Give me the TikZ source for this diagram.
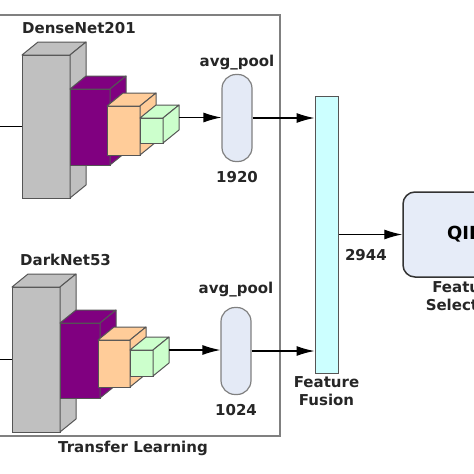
\documentclass[tikz,border=0pt]{standalone}
\usepackage{fontspec}
\setmainfont{DejaVu Sans}
\usetikzlibrary{arrows.meta,positioning}
\definecolor{layergray}{HTML}{C0C0C0}
\definecolor{layerpurple}{HTML}{800080}
\definecolor{layerorange}{HTML}{FFCC99}
\definecolor{layergreen}{HTML}{CCFFCC}
\definecolor{poolfill}{HTML}{E4EAF6}
\definecolor{fusionfill}{HTML}{CCFFFF}
\definecolor{qibfill}{HTML}{E6ECF8}
\definecolor{linegray}{HTML}{555555}
% one 3d layer block: name, x, y (front top left), width, height, colour
\newcommand{\layerbox}[6]{%
  \node[layer, fill=#6, minimum width=#4pt, minimum height=#5pt] (#1) at (#2,#3) {};
  \draw[layerline, fill=#6] (#1.north west) -- ++(16,-13) -- ++(#4,0) -- (#1.north east) -- cycle;
  \draw[layerline, fill=#6] (#1.north east) -- ++(16,-13) -- ++(0,#5) -- (#1.south east) -- cycle;
  \coordinate (#1 back) at ([shift={(16,-13)}]#1.east);
}
\begin{document}
\begin{tikzpicture}[x=1pt, y=-1pt,
    font=\fontsize{15}{18}\selectfont\bfseries,
    layer/.style = {draw=linegray, line width=1pt, anchor=north west, inner sep=0pt, outer sep=0pt},
    layerline/.style = {draw=linegray, line width=1pt, line join=round},
    pool/.style = {draw=gray, fill=poolfill, line width=1.2pt, rounded corners=14pt, minimum width=30pt, minimum height=87pt, inner sep=0pt},
    lbl/.style = {inner sep=0pt, text=black!85},
    arrow/.style = {-{Latex[length=18pt, width=10pt]}, line width=1.2pt},
    frame/.style = {draw=gray, line width=1.2pt}]
  \useasboundingbox (0,0) rectangle (474,474);

  % transfer learning frame
  \draw[frame] (-5,15) rectangle (280,436);
  \node[lbl] (tl) at (133,448) {Transfer Learning};

  % DenseNet201
  \node[lbl, anchor=west] (dense) at (22,28) {DenseNet201};
  \layerbox{gray1}{22}{55}{48}{143}{layergray}
  \layerbox{purple1}{70}{89}{40}{76}{layerpurple}
  \layerbox{orange1}{107}{106}{33}{49}{layerorange}
  \layerbox{green1}{140}{118}{23}{25}{layergreen}

  % DarkNet53
  \node[lbl, anchor=west] (dark) at (20,260) {DarkNet53};
  \layerbox{gray2}{12}{287}{48}{145}{layergray}
  \layerbox{purple2}{60}{323}{40}{75}{layerpurple}
  \layerbox{orange2}{98}{340}{32}{47}{layerorange}
  \layerbox{green2}{130}{350}{23}{26}{layergreen}

  % pooling
  \node[pool] (pool1) at (237,118) {};
  \node[pool] (pool2) at (236,351) {};
  \node[lbl, above=4pt of pool1] {avg\_pool};
  \node[lbl, above=10pt of pool2] {avg\_pool};
  \node[lbl, below=9pt of pool1] {1920};
  \node[lbl, below=9pt of pool2] {1024};

  % fusion and selection
  \node[draw=linegray, fill=fusionfill, line width=1pt, minimum width=23pt, minimum height=277pt, inner sep=0pt] (fusion) at (326.5,234.5) {};
  \node[lbl, below=3pt of fusion, align=center] {Feature\\Fusion};
  \node[draw=black!80, fill=qibfill, line width=1.5pt, rounded corners=12pt, minimum width=124pt, minimum height=85pt, font=\fontsize{18}{21}\selectfont\bfseries] (qib) at (465,234.5) {QIB};
  \node[lbl, below=4pt of qib, align=center] {Feature\\Selection};

  % connectors
  \coordinate (in1) at (-5,126.5);
  \coordinate (in2) at (-5,359.5);
  \draw[line width=1.2pt] (in1) -- (gray1.west);
  \draw[line width=1.2pt] (in2) -- (gray2.west);
  \draw[arrow] (green1 back) -- (green1 back -| pool1.west);
  \draw[arrow] (green2 back) -- (green2 back -| pool2.west);
  \draw[arrow] (pool1.east) -- (pool1.east -| fusion.west);
  \draw[arrow] (pool2.east) -- (pool2.east -| fusion.west);
  \draw[arrow] (fusion.east |- qib.west) -- node[lbl, pos=0.43, below=14pt] {2944} (qib.west);
\end{tikzpicture}
\end{document}
